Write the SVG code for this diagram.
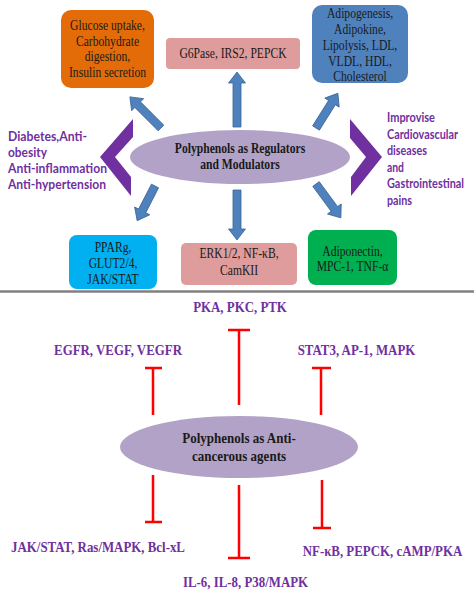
<svg xmlns="http://www.w3.org/2000/svg" width="474" height="598" viewBox="0 0 474 598">
<defs>
<style>
.box text{font-family:"Liberation Serif","Times New Roman",serif;font-size:14px;fill:#1a1a1a;text-anchor:middle}
.ell text{font-family:"Liberation Serif","Times New Roman",serif;font-weight:bold;font-size:14px;fill:#1a1a1a;text-anchor:middle}
.side{font-family:Lato,"Liberation Sans",sans-serif;font-weight:bold;font-size:14px;fill:#7030A0}
.tgt{font-family:"Liberation Serif","Times New Roman",serif;font-weight:bold;font-size:15px;fill:#7030A0;text-anchor:middle}
.arrow{fill:#4F81BD;stroke:#3A6699;stroke-width:0.8}
.inh{stroke:#FF0000;stroke-width:2.5;fill:none}
.chev{fill:#7030A0}
.lav{fill:#B3A2C7}
</style>
</defs>
<rect width="474" height="598" fill="#ffffff"/>

<!-- chevrons -->
<g id="chevrons">
<polygon class="chev" points="133,119 100,157 131,196 131,177 115,157 133,137"/>
<polygon class="chev" points="350,119 382,157 351,196 351,177 366,157 350,138"/>
</g>

<!-- connectors -->
<g id="connectors">
<path class="arrow" transform="translate(237,127) rotate(-90)" d="M0,-4 H44 V-8.5 L55,0 L44,8.5 V4 H0 Z"/>
<path class="arrow" transform="translate(161,128) rotate(-135)" d="M0,-4 H33 V-8.5 L44,0 L33,8.5 V4 H0 Z"/>
<path class="arrow" transform="translate(316,128) rotate(-57.8)" d="M0,-4 H30 V-8.5 L41,0 L30,8.5 V4 H0 Z"/>
<path class="arrow" transform="translate(155,186) rotate(117.2)" d="M0,-4 H28 V-8.5 L39,0 L28,8.5 V4 H0 Z"/>
<path class="arrow" transform="translate(237,190) rotate(90)" d="M0,-4 H39 V-8.5 L50,0 L39,8.5 V4 H0 Z"/>
<path class="arrow" transform="translate(316,184) rotate(53.7)" d="M0,-4 H31 V-8.5 L42,0 L31,8.5 V4 H0 Z"/>
<path class="inh" d="M153,415 V368 M145,368 H162"/>
<path class="inh" d="M239,405 V330 M228,330 H250"/>
<path class="inh" d="M321,415 V368 M312,368 H331"/>
<path class="inh" d="M153,475 V522 M145,522 H162"/>
<path class="inh" d="M239,485 V558 M228,558 H250"/>
<path class="inh" d="M322,480 V528 M313,528 H331"/>
</g>

<!-- top section nodes -->
<g id="glucose" class="box">
<rect x="61" y="10" width="93" height="78" rx="10" fill="#E36C09"/>
<text transform="translate(107.5,30) scale(0.83,1)">Glucose uptake,</text>
<text transform="translate(107.5,46) scale(0.83,1)">Carbohydrate</text>
<text transform="translate(107.5,61) scale(0.83,1)">digestion,</text>
<text transform="translate(107.5,77) scale(0.83,1)">Insulin secretion</text>
</g>
<g id="g6pase" class="box">
<rect x="166" y="38" width="134" height="31" rx="4" fill="#DE9C9C"/>
<text transform="translate(233,58) scale(0.83,1)">G6Pase, IRS2, PEPCK</text>
</g>
<g id="adipo" class="box">
<rect x="312" y="5" width="96" height="78" rx="10" fill="#4F81BD"/>
<text transform="translate(360,18) scale(0.83,1)">Adipogenesis,</text>
<text transform="translate(360,34) scale(0.83,1)">Adipokine,</text>
<text transform="translate(360,50) scale(0.83,1)">Lipolysis, LDL,</text>
<text transform="translate(360,66) scale(0.83,1)">VLDL, HDL,</text>
<text transform="translate(360,81) scale(0.83,1)">Cholesterol</text>
</g>
<g id="regulators" class="ell">
<ellipse class="lav" cx="240" cy="157" rx="110" ry="27"/>
<text transform="translate(240,152.5) scale(0.83,1)">Polyphenols as Regulators</text>
<text transform="translate(240,168.5) scale(0.83,1)">and Modulators</text>
</g>
<g id="left-label">
<text class="side" x="8" y="141" textLength="79" lengthAdjust="spacingAndGlyphs">Diabetes,Anti-</text>
<text class="side" x="8" y="157" textLength="39" lengthAdjust="spacingAndGlyphs">obesity</text>
<text class="side" x="8" y="173" textLength="99" lengthAdjust="spacingAndGlyphs">Anti-inflammation</text>
<text class="side" x="8" y="189" textLength="98" lengthAdjust="spacingAndGlyphs">Anti-hypertension</text>
</g>
<g id="right-label">
<text class="side" style="font-size:13px" x="387" y="122" textLength="48" lengthAdjust="spacingAndGlyphs">Improvise</text>
<text class="side" style="font-size:13px" x="387" y="139" textLength="71" lengthAdjust="spacingAndGlyphs">Cardiovascular</text>
<text class="side" style="font-size:13px" x="387" y="155" textLength="40" lengthAdjust="spacingAndGlyphs">diseases</text>
<text class="side" style="font-size:13px" x="387" y="172" textLength="17" lengthAdjust="spacingAndGlyphs">and</text>
<text class="side" style="font-size:13px" x="387" y="188" textLength="77" lengthAdjust="spacingAndGlyphs">Gastrointestinal</text>
<text class="side" style="font-size:13px" x="387" y="205" textLength="25" lengthAdjust="spacingAndGlyphs">pains</text>
</g>
<g id="ppar" class="box">
<rect x="69" y="235" width="88" height="54" rx="8" fill="#00B0F0"/>
<text transform="translate(113,252) scale(0.83,1)">PPARg,</text>
<text transform="translate(113,268) scale(0.83,1)">GLUT2/4,</text>
<text transform="translate(113,284) scale(0.83,1)">JAK/STAT</text>
</g>
<g id="erk" class="box">
<rect x="181" y="243" width="116" height="42" rx="5" fill="#DE9C9C"/>
<text transform="translate(239,258) scale(0.83,1)">ERK1/2, NF-κB,</text>
<text transform="translate(239,275) scale(0.83,1)">CamKII</text>
</g>
<g id="adiponectin" class="box">
<rect x="308" y="230" width="89" height="55" rx="8" fill="#00B050"/>
<text transform="translate(352.5,256) scale(0.83,1)">Adiponectin,</text>
<text transform="translate(352.5,271) scale(0.83,1)">MPC-1, TNF-α</text>
</g>

<!-- divider -->
<line x1="0" y1="291.5" x2="474" y2="291.5" stroke="#808080" stroke-width="2.5"/>

<!-- bottom section -->
<g id="anticancer" class="ell">
<ellipse class="lav" cx="239" cy="447" rx="119" ry="31"/>
<text style="font-size:15.5px" transform="translate(239,443) scale(0.84,1)">Polyphenols as Anti-</text>
<text style="font-size:15.5px" transform="translate(239,461) scale(0.84,1)">cancerous agents</text>
</g>
<g id="pka"><text class="tgt" transform="translate(240,312) scale(0.86,1)">PKA, PKC, PTK</text></g>
<g id="egfr"><text class="tgt" transform="translate(118,355) scale(0.86,1)">EGFR, VEGF, VEGFR</text></g>
<g id="stat3"><text class="tgt" transform="translate(356.5,355) scale(0.86,1)">STAT3, AP-1, MAPK</text></g>
<g id="jak"><text class="tgt" transform="translate(98,552) scale(0.86,1)">JAK/STAT, Ras/MAPK, Bcl-xL</text></g>
<g id="il6"><text class="tgt" transform="translate(245.5,587) scale(0.86,1)">IL-6, IL-8, P38/MAPK</text></g>
<g id="nfkb"><text class="tgt" transform="translate(382.5,556) scale(0.86,1)">NF-κB, PEPCK, cAMP/PKA</text></g>
</svg>
